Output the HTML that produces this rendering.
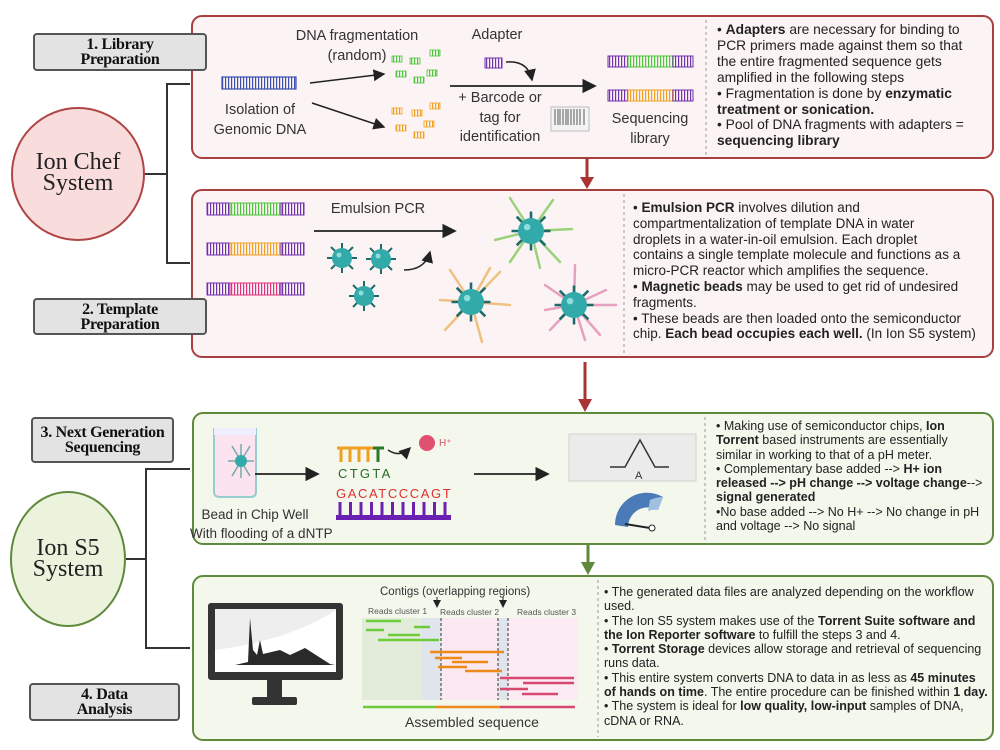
<!DOCTYPE html>
<html><head><meta charset="utf-8"><style>
body{margin:0;background:#fff}
#c{position:relative;width:1000px;height:750px;overflow:hidden;font-family:"Liberation Sans",sans-serif;color:#222}
svg{position:absolute;left:0;top:0}
.t{position:absolute;font-size:13.8px;line-height:15.9px;color:#222;white-space:nowrap}
.s{position:absolute;font-size:12.5px;line-height:14.3px;color:#222;white-space:nowrap}
.lab{position:absolute;background:#e3e3e3;border:2px solid #555;border-radius:4px;font-family:"Liberation Serif",serif;font-weight:bold;font-size:16px;line-height:15px;text-align:center;color:#111;box-sizing:border-box;padding-top:2px;white-space:nowrap;letter-spacing:-0.3px}
.c{position:absolute;text-align:center;font-size:14.5px;line-height:19.5px;color:#333;white-space:nowrap}
</style></head><body><div id="c">
<svg width="1000" height="750" viewBox="0 0 1000 750">
<defs>
<pattern id="rb" width="3" height="10" patternUnits="userSpaceOnUse"><rect width="1.2" height="10" fill="#3a4fb0"/></pattern>
<pattern id="rg" width="3" height="10" patternUnits="userSpaceOnUse"><rect width="1.2" height="10" fill="#4cc43c"/></pattern>
<pattern id="ro" width="3" height="10" patternUnits="userSpaceOnUse"><rect width="1.2" height="10" fill="#f0a020"/></pattern>
<pattern id="rp" width="3" height="10" patternUnits="userSpaceOnUse"><rect width="1.2" height="10" fill="#7030b0"/></pattern>
<pattern id="rm" width="3" height="10" patternUnits="userSpaceOnUse"><rect width="1.2" height="10" fill="#e03080"/></pattern>
<marker id="ah" markerWidth="8" markerHeight="8" refX="7" refY="4" orient="auto"><path d="M0,0 L8,4 L0,8z" fill="#222"/></marker>
<g id="bead"><g stroke="#1f6b6b" stroke-width="2"><line x1="-15" y1="0" x2="15" y2="0"/><line x1="0" y1="-15" x2="0" y2="15"/><line x1="-11" y1="-11" x2="11" y2="11"/><line x1="-11" y1="11" x2="11" y2="-11"/></g><circle r="10" fill="#33aaaa"/><circle cx="-3" cy="-3" r="2.5" fill="#8fdede"/></g>
</defs>
<circle cx="78" cy="174" r="66" fill="#f9dcdc" stroke="#b04545" stroke-width="2"/>
<polyline points="145,174 167,174" stroke="#333" stroke-width="2" fill="none"/>
<polyline points="190,84 167,84 167,263 190,263" stroke="#333" stroke-width="2" fill="none"/>
<ellipse cx="68" cy="559" rx="57" ry="67" fill="#ebf3dd" stroke="#5f8a3c" stroke-width="2"/>
<polyline points="126,559 146,559" stroke="#333" stroke-width="2" fill="none"/>
<polyline points="190,469 146,469 146,648 190,648" stroke="#333" stroke-width="2" fill="none"/>
<rect x="192" y="16" width="801" height="142" rx="10" fill="#fcf4f4" stroke="#a94040" stroke-width="2"/>
<rect x="192" y="190" width="801" height="167" rx="10" fill="#fcf4f4" stroke="#a94040" stroke-width="2"/>
<rect x="193" y="413" width="800" height="131" rx="10" fill="#f3f7ec" stroke="#5f8a3c" stroke-width="2"/>
<rect x="193" y="576" width="800" height="164" rx="10" fill="#f3f7ec" stroke="#5f8a3c" stroke-width="2"/>
<g stroke="#aaa" stroke-dasharray="3,3" stroke-width="1.2"><line x1="706" y1="20" x2="706" y2="155"/><line x1="624" y1="194" x2="624" y2="354"/><line x1="705" y1="417" x2="705" y2="541"/><line x1="598" y1="580" x2="598" y2="737"/></g>
<line x1="587" y1="158" x2="587" y2="178" stroke="#a33" stroke-width="3"/><path d="M580,177 L594,177 L587,189z" fill="#a33"/>
<line x1="585" y1="362" x2="585" y2="400" stroke="#a33" stroke-width="3"/><path d="M578,399 L592,399 L585,412z" fill="#a33"/>
<line x1="588" y1="544" x2="588" y2="563" stroke="#5f8a3c" stroke-width="3"/><path d="M581,562 L595,562 L588,575z" fill="#5f8a3c"/>
<rect x="222" y="77" width="74" height="12" fill="url(#rb)" stroke="#3a4fb0" stroke-width="1.2"/>
<line x1="310" y1="83" x2="384" y2="74" stroke="#222" stroke-width="1.5" marker-end="url(#ah)"/>
<line x1="312" y1="103" x2="384" y2="127" stroke="#222" stroke-width="1.5" marker-end="url(#ah)"/>
<g fill="url(#rg)" stroke="#4cc43c" stroke-width="0.8"><rect x="392" y="56" width="10" height="6"/><rect x="410" y="58" width="10" height="6"/><rect x="430" y="50" width="10" height="6"/><rect x="396" y="71" width="10" height="6"/><rect x="414" y="77" width="10" height="6"/><rect x="427" y="70" width="10" height="6"/></g>
<g fill="url(#ro)" stroke="#f0a020" stroke-width="0.8"><rect x="392" y="108" width="10" height="6"/><rect x="412" y="110" width="10" height="6"/><rect x="430" y="103" width="10" height="6"/><rect x="396" y="125" width="10" height="6"/><rect x="424" y="121" width="10" height="6"/><rect x="414" y="132" width="10" height="6"/></g>
<rect x="485" y="58" width="17" height="10" fill="url(#rp)" stroke="#7030b0"/>
<path d="M506,62 Q528,60 532,80" stroke="#222" stroke-width="1.5" fill="none" marker-end="url(#ah)"/>
<line x1="450" y1="86" x2="595" y2="86" stroke="#222" stroke-width="1.8" marker-end="url(#ah)"/>
<rect x="551" y="107" width="38" height="24" fill="#f4f4f4" stroke="#bbb"/>
<g stroke="#333" stroke-width="0.8"><line x1="555" y1="109" x2="555" y2="125"/><line x1="558" y1="109" x2="558" y2="125"/><line x1="560" y1="109" x2="560" y2="125"/><line x1="563" y1="109" x2="563" y2="125"/><line x1="566" y1="109" x2="566" y2="125"/><line x1="568" y1="109" x2="568" y2="125"/><line x1="571" y1="109" x2="571" y2="125"/><line x1="574" y1="109" x2="574" y2="125"/><line x1="577" y1="109" x2="577" y2="125"/><line x1="580" y1="109" x2="580" y2="125"/><line x1="584" y1="109" x2="584" y2="125"/></g>
<g stroke-width="1"><rect x="608" y="56" width="20" height="11" fill="url(#rp)" stroke="#7030b0"/><rect x="628" y="56" width="45" height="11" fill="url(#rg)" stroke="#4cc43c"/><rect x="673" y="56" width="20" height="11" fill="url(#rp)" stroke="#7030b0"/>
<rect x="608" y="90" width="20" height="11" fill="url(#rp)" stroke="#7030b0"/><rect x="628" y="90" width="45" height="11" fill="url(#ro)" stroke="#f0a020"/><rect x="673" y="90" width="20" height="11" fill="url(#rp)" stroke="#7030b0"/></g>
<g stroke-width="1">
<rect x="207" y="203" width="23" height="12" fill="url(#rp)" stroke="#7030b0"/><rect x="230" y="203" width="51" height="12" fill="url(#rg)" stroke="#4cc43c"/><rect x="281" y="203" width="23" height="12" fill="url(#rp)" stroke="#7030b0"/>
<rect x="207" y="243" width="23" height="12" fill="url(#rp)" stroke="#7030b0"/><rect x="230" y="243" width="51" height="12" fill="url(#ro)" stroke="#f0a020"/><rect x="281" y="243" width="23" height="12" fill="url(#rp)" stroke="#7030b0"/>
<rect x="207" y="283" width="23" height="12" fill="url(#rp)" stroke="#7030b0"/><rect x="230" y="283" width="51" height="12" fill="url(#rm)" stroke="#e03080"/><rect x="281" y="283" width="23" height="12" fill="url(#rp)" stroke="#7030b0"/></g>
<line x1="314" y1="231" x2="455" y2="231" stroke="#222" stroke-width="1.8" marker-end="url(#ah)"/>
<use href="#bead" x="342" y="258"/><use href="#bead" x="381" y="259"/><use href="#bead" x="364" y="296"/>
<path d="M404,270 Q425,270 430,252" stroke="#222" stroke-width="1.5" fill="none" marker-end="url(#ah)"/>
<g stroke-width="2.5" stroke-linecap="round">
<g stroke="#9ad27c"><line x1="531" y1="231" x2="510" y2="198"/><line x1="531" y1="231" x2="553" y2="200"/><line x1="531" y1="231" x2="572" y2="229"/><line x1="531" y1="231" x2="495" y2="240"/><line x1="531" y1="231" x2="560" y2="262"/><line x1="531" y1="231" x2="540" y2="268"/><line x1="531" y1="231" x2="510" y2="262"/></g>
<g stroke="#f0c080"><line x1="471" y1="302" x2="440" y2="300"/><line x1="471" y1="302" x2="450" y2="270"/><line x1="471" y1="302" x2="500" y2="272"/><line x1="471" y1="302" x2="510" y2="305"/><line x1="471" y1="302" x2="482" y2="342"/><line x1="471" y1="302" x2="445" y2="330"/><line x1="471" y1="302" x2="490" y2="268"/></g>
<g stroke="#e8a0c0"><line x1="574" y1="305" x2="545" y2="285"/><line x1="574" y1="305" x2="575" y2="265"/><line x1="574" y1="305" x2="606" y2="290"/><line x1="574" y1="305" x2="616" y2="305"/><line x1="574" y1="305" x2="600" y2="335"/><line x1="574" y1="305" x2="550" y2="330"/><line x1="574" y1="305" x2="545" y2="310"/><line x1="574" y1="305" x2="585" y2="340"/></g></g>
<g transform="translate(531,231) scale(1.3)"><use href="#bead"/></g><g transform="translate(471,302) scale(1.3)"><use href="#bead"/></g><g transform="translate(574,305) scale(1.3)"><use href="#bead"/></g>
<path d="M214,428 L214,492 Q214,497 220,497 L250,497 Q256,497 256,492 L256,428" fill="#fbe3f0" stroke="#9cc" stroke-width="2"/>
<rect x="214" y="428" width="42" height="7" fill="#eef"/>
<g stroke="#7aa" stroke-width="1.5"><line x1="232" y1="446" x2="250" y2="476"/><line x1="250" y1="446" x2="232" y2="476"/><line x1="228" y1="461" x2="254" y2="461"/><line x1="241" y1="444" x2="241" y2="478"/></g>
<circle cx="241" cy="461" r="6" fill="#33aaaa"/>
<line x1="255" y1="474" x2="318" y2="474" stroke="#222" stroke-width="1.8" marker-end="url(#ah)"/>
<g stroke="#f0a020" stroke-width="3"><line x1="337" y1="448" x2="380" y2="448"/><line x1="341" y1="448" x2="341" y2="462"/><line x1="350" y1="448" x2="350" y2="462"/><line x1="359" y1="448" x2="359" y2="462"/><line x1="368" y1="448" x2="368" y2="462"/></g>
<g stroke="#2a7a2a" stroke-width="3"><line x1="373" y1="448" x2="384" y2="448"/><line x1="378" y1="448" x2="378" y2="462"/></g>
<path d="M388,450 Q400,458 410,448" stroke="#222" stroke-width="1.5" fill="none" marker-end="url(#ah)"/>
<circle cx="427" cy="443" r="8" fill="#e05070"/>
<text x="439" y="446" font-size="10" fill="#d05060" font-family="Liberation Sans">H⁺</text>
<text x="338" y="478" font-size="13" fill="#2a6a2a" letter-spacing="2.3" font-family="Liberation Sans">CTGTA</text>
<text x="336" y="498" font-size="13" fill="#e03030" letter-spacing="1.6" font-family="Liberation Sans">GACATCCCAGT</text>
<rect x="336" y="515" width="115" height="5" fill="#6a20b0"/>
<g stroke="#6a20b0" stroke-width="3"><line x1="340" y1="502" x2="340" y2="516"/><line x1="350.5" y1="502" x2="350.5" y2="516"/><line x1="361" y1="502" x2="361" y2="516"/><line x1="371.5" y1="502" x2="371.5" y2="516"/><line x1="382" y1="502" x2="382" y2="516"/><line x1="392.5" y1="502" x2="392.5" y2="516"/><line x1="403" y1="502" x2="403" y2="516"/><line x1="413.5" y1="502" x2="413.5" y2="516"/><line x1="424" y1="502" x2="424" y2="516"/><line x1="434.5" y1="502" x2="434.5" y2="516"/><line x1="445" y1="502" x2="445" y2="516"/></g>
<line x1="474" y1="474" x2="548" y2="474" stroke="#222" stroke-width="1.8" marker-end="url(#ah)"/>
<rect x="569" y="434" width="127" height="47" fill="#ebebeb" stroke="#d0d0d0"/>
<polyline points="610,467 625,467 640,440 655,467 669,467" fill="none" stroke="#333" stroke-width="1.5"/>
<text x="635" y="479" font-size="11" fill="#333" font-family="Liberation Sans">A</text>
<path d="M615,525 A32,32 0 0 1 663,497 L658,510 A20,20 0 0 0 628,527z" fill="#4a7ab8"/>
<path d="M650,500 A32,32 0 0 1 663,497 L658,510 A20,20 0 0 0 648,511z" fill="#a0c0e0"/>
<line x1="625" y1="524" x2="650" y2="528" stroke="#222" stroke-width="2"/><circle cx="652" cy="528" r="3" fill="#fff" stroke="#222"/>
<rect x="208" y="603" width="135" height="77" rx="3" fill="#333"/>
<rect x="215" y="609" width="121" height="63" fill="#eeeeee"/>
<path d="M215,650 Q290,640 336,610 L336,672 L215,672z" fill="#fff"/>
<path d="M235,665 L248,662 L250,618 L253,650 L257,655 L260,640 L263,654 L280,650 L290,655 L305,648 L330,664 L335,665z" fill="#2a2a2a"/>
<rect x="267" y="680" width="15" height="18" fill="#333"/><rect x="252" y="697" width="45" height="8" rx="2" fill="#333"/>
<rect x="362" y="618" width="60" height="82" fill="#e3ecdb"/><rect x="422" y="618" width="19" height="82" fill="#e0e4ec"/><rect x="441" y="618" width="57" height="82" fill="#fbe8f0"/><rect x="498" y="618" width="10" height="82" fill="#e0e4ec"/><rect x="508" y="618" width="70" height="82" fill="#fcebf2"/>
<g stroke="#333" stroke-dasharray="3,2" stroke-width="1"><line x1="441" y1="618" x2="441" y2="700"/><line x1="498" y1="618" x2="498" y2="700"/><line x1="508" y1="618" x2="508" y2="700"/></g>
<g stroke="#6ccc3a" stroke-width="2.5"><line x1="366" y1="621" x2="401" y2="621"/><line x1="366" y1="630" x2="384" y2="630"/><line x1="414" y1="627" x2="430" y2="627"/><line x1="388" y1="635" x2="420" y2="635"/><line x1="378" y1="640" x2="439" y2="640"/></g>
<g stroke="#ee8a1a" stroke-width="2.5"><line x1="430" y1="652" x2="504" y2="652"/><line x1="435" y1="658" x2="462" y2="658"/><line x1="452" y1="662" x2="488" y2="662"/><line x1="438" y1="667" x2="467" y2="667"/><line x1="465" y1="671" x2="502" y2="671"/></g>
<g stroke="#d84870" stroke-width="2.5"><line x1="500" y1="678" x2="574" y2="678"/><line x1="523" y1="683" x2="574" y2="683"/><line x1="500" y1="689" x2="528" y2="689"/><line x1="522" y1="694" x2="558" y2="694"/></g>
<line x1="363" y1="707" x2="436" y2="707" stroke="#6ccc3a" stroke-width="2.5"/><line x1="436" y1="707" x2="500" y2="707" stroke="#ee8a1a" stroke-width="2.5"/><line x1="500" y1="707" x2="575" y2="707" stroke="#d84870" stroke-width="2.5"/>
<line x1="437" y1="597" x2="437" y2="607" stroke="#222" marker-end="url(#ah)"/><line x1="503" y1="597" x2="503" y2="607" stroke="#222" marker-end="url(#ah)"/>
<text x="380" y="595" font-size="11.5" fill="#333" font-family="Liberation Sans">Contigs (overlapping regions)</text>
<g font-size="8.5" fill="#555" font-family="Liberation Sans"><text x="368" y="614">Reads cluster 1</text><text x="440" y="615">Reads cluster 2</text><text x="517" y="615">Reads cluster 3</text></g>
<text x="405" y="727" font-size="14" fill="#333" font-family="Liberation Sans">Assembled sequence</text>
</svg>
<div class="lab" style="left:33px;top:33px;width:174px;height:38px">1. Library<br>Preparation</div>
<div class="lab" style="left:33px;top:298px;width:174px;height:37px">2. Template<br>Preparation</div>
<div class="lab" style="left:31px;top:417px;width:143px;height:46px;padding-top:6px">3. Next Generation<br>Sequencing</div>
<div class="lab" style="left:29px;top:683px;width:151px;height:38px">4. Data<br>Analysis</div>
<div style="position:absolute;left:12px;top:152px;width:132px;text-align:center;font-family:'Liberation Serif',serif;font-size:24px;line-height:21px;color:#222">Ion Chef<br>System</div>
<div style="position:absolute;left:11px;top:538px;width:114px;text-align:center;font-family:'Liberation Serif',serif;font-size:24px;line-height:21px;color:#222">Ion S5<br>System</div>
<div class="c" style="left:205px;top:101px;width:110px">Isolation of<br>Genomic DNA</div>
<div class="c" style="left:282px;top:27px;width:150px">DNA fragmentation<br>(random)</div>
<div class="c" style="left:462px;top:26px;width:70px">Adapter</div>
<div class="c" style="left:450px;top:89px;width:100px">+ Barcode or<br>tag for<br>identification</div>
<div class="c" style="left:600px;top:110px;width:100px">Sequencing<br>library</div>
<div class="c" style="left:318px;top:200px;width:120px">Emulsion PCR</div>
<div class="c" style="left:190px;top:505px;width:130px;line-height:19px;font-size:13.5px">Bead in Chip Well<br>With flooding of a dNTP</div>
<div class="t" style="left:717px;top:22px">• <b>Adapters</b> are necessary for binding to<br>PCR primers made against them so that<br>the entire fragmented sequence gets<br>amplified in the following steps<br>• Fragmentation is done by <b>enzymatic</b><br><b>treatment or sonication.</b><br>• Pool of DNA fragments with adapters =<br><b>sequencing library</b></div>
<div class="t" style="left:633px;top:200px;font-size:13.5px;line-height:15.8px">• <b>Emulsion PCR</b> involves  dilution and<br>compartmentalization of template DNA  in water<br>droplets in a water-in-oil emulsion. Each droplet<br>contains a single template molecule and functions as a<br>micro-PCR reactor which amplifies the sequence.<br>• <b>Magnetic beads</b> may be used to get rid of undesired<br>fragments.<br>• These beads are then loaded onto the semiconductor<br>chip. <b>Each bead occupies each well.</b> (In Ion S5 system)</div>
<div class="s" style="left:716px;top:419px">• Making use of semiconductor chips, <b>Ion</b><br><b>Torrent</b> based instruments are essentially<br>similar in working to that of a pH meter.<br>• Complementary base added --&gt; <b>H+ ion</b><br><b>released --&gt; pH change --&gt; voltage change</b>--&gt;<br><b>signal generated</b><br>•No base added --&gt; No H+ --&gt; No change in pH<br>and voltage --&gt; No signal</div>
<div class="s" style="left:604px;top:585px">• The generated data files are analyzed depending on the workflow<br>used.<br>• The Ion S5 system makes use of the <b>Torrent Suite software and</b><br><b>the Ion Reporter software</b> to fulfill the steps 3 and 4.<br>• <b>Torrent Storage</b> devices allow storage and retrieval of sequencing<br>runs data.<br>• This entire system converts DNA to data in as less as <b>45 minutes</b><br><b>of hands on time</b>. The entire procedure can be finished within <b>1 day.</b><br>• The system is ideal for <b>low quality, low-input</b> samples of DNA,<br>cDNA or RNA.</div>
</div></body></html>
